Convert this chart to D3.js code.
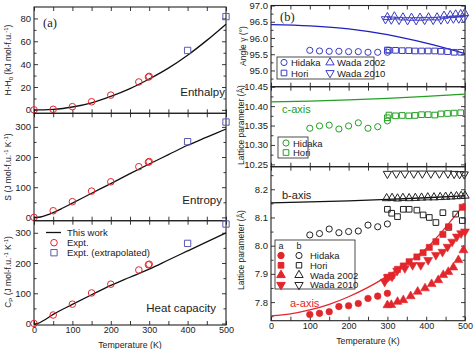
<!DOCTYPE html>
<html><head><meta charset="utf-8">
<script src="https://cdn.jsdelivr.net/npm/d3@7"></script>
<style>body{margin:0;background:#fff}svg{display:block;font-family:"Liberation Sans",Arial,sans-serif}</style>
</head><body><svg id="c" width="474" height="349"></svg>
<script>
// ---------------- DATA ----------------
const tempTicks = [0,100,200,300,400,500];
// (a) Enthalpy
const hLineT = [0,25,50,75,100,150,200,250,300,350,400,450,500];
const hLine  = [0,0.05,0.4,1.2,2.5,6.2,11.8,18.6,27,36.5,47.8,60.8,75];
const hExpT  = [0,50,100,150,200,273,298,300];
const hExp   = [0,0.5,2.8,7.1,12.9,24.4,28.7,29.3];
const hExtT  = [400,500];
const hExt   = [52,81.6];
// (a) Entropy
const sLineT = [0,12,25,50,75,100,150,200,250,300,350,400,450,500];
const sLine  = [0,0.5,4,16,31,47,80,112,145,177,208,239,266,293];
const sExpT  = [0,50,100,150,200,273,298,300];
const sExp   = [0,22,52,87,118,168,183,185];
const sExtT  = [400,500];
const sExt   = [251,316];
// (a) Heat capacity
const cLineT = [0,10,25,50,100,150,200,250,300,350,400,450,500];
const cLine  = [-3,0,10,30,63,95,126,153,180,210,240,270,300];
const cExpT  = [0,50,100,150,200,273,298,300];
const cExp   = [0,28,64,101,130,177,194,196];
const cExtT  = [400,500];
const cExt   = [265,329];
// (b) Angle gamma
const gLineT = [0,100,200,300,400,500];
const gLine  = [96.41,96.37,96.28,96.1,95.84,95.52];
const hidakaT = [100,125,150,175,200,225,250,275,300];
const gHidaka = [95.62,95.6,95.59,95.59,95.58,95.58,95.56,95.56,95.56];
const horiT   = [300,304,321,338,355,371,388,405,422,438,455,472,489];
const gHori   = [95.63,95.62,95.62,95.61,95.61,95.6,95.6,95.6,95.6,95.59,95.58,95.56,95.56];
const wada02T = [300,318,340,362,384,406,428,446,462,476,489,499];
const gWada02 = [96.64,96.66,96.63,96.62,96.62,96.63,96.63,96.68,96.7,96.72,96.73,96.76];
const wada10T = [295,310,330,352,374,396,418,438,455,470,484,497];
const gWada10 = [96.58,96.57,96.56,96.55,96.55,96.56,96.56,96.57,96.58,96.6,96.6,96.61];
// (b) c-axis
const cAxLineT = [0,100,200,300,400,500];
const cAxLine  = [10.411,10.413,10.416,10.42,10.425,10.431];
const cHidaka  = [10.343,10.349,10.351,10.341,10.349,10.357,10.343,10.347,10.362];
const cHori    = [10.37,10.377,10.375,10.376,10.375,10.376,10.378,10.378,10.377,10.38,10.381,10.382,10.383];
// (b) b-axis
const bLineT = [0,100,200,300,400,500];
const bLine  = [8.152,8.155,8.159,8.164,8.17,8.177];
const bHidaka = [8.038,8.043,8.059,8.046,8.05,8.052,8.073,8.067,8.077];
const bHoriT  = [300,311,326,341,356,376,392,408,425,443,458,476,493];
const bHori   = [8.129,8.115,8.103,8.129,8.129,8.126,8.109,8.1,8.082,8.117,8.065,8.112,8.089];
const bWada02T = [298,312,326,340,356,372,388,404,420,436,450,464,478,490,500];
const bWada02  = [8.168,8.169,8.167,8.169,8.168,8.169,8.17,8.171,8.171,8.172,8.173,8.174,8.175,8.176,8.177];
const bWada10T = [300,323,345,368,390,412,434,456,472,486,498];
const bWada10  = [8.255,8.256,8.256,8.256,8.256,8.256,8.256,8.256,8.255,8.254,8.253];
// (b) a-axis
const aLineT = [0,50,100,150,200,250,300,350,400,450,500];
const aLine  = [7.751,7.758,7.772,7.792,7.819,7.852,7.892,7.938,7.99,8.065,8.15];
const aHidaka = [7.756,7.76,7.766,7.784,7.787,7.795,7.813,7.821,7.831];
const aHoriT  = [300,311,326,341,356,376,392,408,425,443,458,493];
const aHori   = [7.888,7.895,7.916,7.928,7.943,7.96,7.975,7.994,8.014,8.04,8.067,8.136];
const aWada10T = [293,301,312,325,345,365,386,405,425,442,455,467,479,490,500];
const aWada10  = [7.872,7.888,7.89,7.911,7.92,7.931,7.931,7.949,7.967,7.978,7.996,8.014,8.032,8.044,8.05];
const aWada02T = [300,310,326,341,360,378,397,414,431,444,457,470,483,496];
const aWada02  = [7.789,7.79,7.801,7.807,7.821,7.837,7.849,7.864,7.878,7.896,7.907,7.923,7.949,7.984];

// ---------------- DRAW ----------------
const svg = d3.select('#c');
const RED = '#e3262b', BLUE = '#3b3bc4', GREEN = '#23a023', PBLUE = '#5a5ab0';
const FS = 9.5;

function zip(T, V){ return T.map((t,i)=>[t,V[i]]); }

function panel(x, top, bottom, domain, majors, minors, labelFmt, showX){
  const y = d3.scaleLinear().domain(domain).range([bottom, top]);
  const g = svg.append('g');
  const [x0,x1] = x.range();
  const ax = g.append('g').attr('transform',`translate(${x0},0)`)
    .call(d3.axisLeft(y).tickValues(majors).tickSize(-4).tickPadding(3).tickFormat(labelFmt));
  ax.select('.domain').remove();
  ax.selectAll('text').attr('font-size',FS).attr('font-family','Liberation Sans, Arial').attr('fill','#222');
  g.append('g').attr('transform',`translate(${x0},0)`).call(d3.axisLeft(y).tickValues(minors).tickSize(-2.5).tickFormat(''))
    .select('.domain').remove();
  const r = g.append('g').attr('transform',`translate(${x1},0)`);
  r.call(d3.axisRight(y).tickValues(majors).tickSize(-4).tickFormat('')).select('.domain').remove();
  const r2 = g.append('g').attr('transform',`translate(${x1},0)`);
  r2.call(d3.axisRight(y).tickValues(minors).tickSize(-2.5).tickFormat('')).select('.domain').remove();
  const xt = d3.range(0,501,50);
  g.append('g').attr('transform',`translate(0,${bottom})`).call(d3.axisBottom(x).tickValues(xt).tickSize(-4).tickFormat('')).select('.domain').remove();
  g.append('g').attr('transform',`translate(0,${top})`).call(d3.axisTop(x).tickValues(xt).tickSize(-4).tickFormat('')).select('.domain').remove();
  if(showX){
    const bx = g.append('g').attr('transform',`translate(0,${bottom})`)
      .call(d3.axisBottom(x).tickValues(tempTicks).tickSize(0).tickPadding(2));
    bx.select('.domain').remove();
    bx.selectAll('text').attr('font-size',9).attr('font-family','Liberation Sans, Arial').attr('fill','#222');
  }
  g.selectAll('.tick line').attr('stroke','#222').attr('stroke-width',0.9);
  g.append('rect').attr('x',x0).attr('y',top).attr('width',x1-x0).attr('height',bottom-top)
    .attr('fill','none').attr('stroke','#222').attr('stroke-width',1.1);
  return {g,y};
}

function line(g, x, y, T, V, color){
  g.append('path').datum(zip(T,V))
    .attr('d', d3.line().x(d=>x(d[0])).y(d=>y(d[1])).curve(d3.curveMonotoneX))
    .attr('fill','none').attr('stroke',color).attr('stroke-width',1.3);
}
function marks(g, x, y, T, V, type, size, color, filled, rot){
  const sym = d3.symbol().type(type).size(size);
  g.selectAll(null).data(zip(T,V)).enter().append('path')
    .attr('d', sym)
    .attr('transform', d=>`translate(${x(d[0])},${y(d[1])})${rot?' rotate(180)':''}`)
    .attr('fill', filled ? color : 'none')
    .attr('stroke', color).attr('stroke-width', filled?0.6:1);
}
function text(g, x, y, s, o={}){
  const t = g.append('text').attr('x',x).attr('y',y).text(s)
    .attr('font-size',o.fs||FS).attr('fill',o.fill||'#222')
    .attr('text-anchor',o.anchor||'start');
  if(o.family) t.attr('font-family',o.family);
  return t;
}
function vtitle(x, y, parts, fs){
  const t = svg.append('text').attr('transform',`translate(${x},${y}) rotate(-90)`)
    .attr('text-anchor','middle').attr('font-size',fs||8.5).attr('fill','#222');
  parts.forEach(p=>{
    const ts = t.append('tspan').text(p[0]);
    if(p[1]==='sub'){ ts.attr('font-size',(fs||8.5)*0.7).attr('dy',2); }
    else if(p[1]==='sup'){ ts.attr('font-size',(fs||8.5)*0.7).attr('dy',-3.5); }
    if(p[2]) ts.attr('dy',p[2]);
  });
  return t;
}

// ---- Left (a) ----
const xa = d3.scaleLinear().domain([0,500]).range([34,226]);
const fmt0 = d3.format('d');
const pH = panel(xa, 7, 113.3, [-3,90], [0,20,40,60,80], [10,30,50,70], fmt0, false);
line(pH.g, xa, pH.y, hLineT, hLine, '#111');
marks(pH.g, xa, pH.y, hExpT, hExp, d3.symbolCircle, 34, RED, false);
marks(pH.g, xa, pH.y, hExtT, hExt, d3.symbolSquare, 40, PBLUE, false);
text(pH.g, 43, 27, '(a)', {fs:12.5, family:'Liberation Serif'});
text(pH.g, 225, 96, 'Enthalpy', {fs:11.5, anchor:'end'});

const pS = panel(xa, 113.3, 220.7, [-11,345], [0,100,200,300], [50,150,250], fmt0, false);
line(pS.g, xa, pS.y, sLineT, sLine, '#111');
marks(pS.g, xa, pS.y, sExpT, sExp, d3.symbolCircle, 34, RED, false);
marks(pS.g, xa, pS.y, sExtT, sExt, d3.symbolSquare, 40, PBLUE, false);
text(pS.g, 222, 204, 'Entropy', {fs:11.5, anchor:'end'});

const pC = panel(xa, 220.7, 325, [-5,340], [0,100,200,300], [50,150,250], fmt0, true);
line(pC.g, xa, pC.y, cLineT, cLine, '#111');
marks(pC.g, xa, pC.y, cExpT, cExp, d3.symbolCircle, 34, RED, false);
marks(pC.g, xa, pC.y, cExtT, cExt, d3.symbolSquare, 40, PBLUE, false);
text(pC.g, 216, 312, 'Heat capacity', {fs:11.5, anchor:'end'});
pC.g.append('line').attr('x1',46).attr('x2',61).attr('y1',232.5).attr('y2',232.5).attr('stroke','#111').attr('stroke-width',1.3);
text(pC.g, 67, 236, 'This work', {fs:9.5});
pC.g.append('path').attr('d',d3.symbol().type(d3.symbolCircle).size(34)).attr('transform','translate(54,242.7)').attr('fill','none').attr('stroke',RED);
text(pC.g, 67, 246, 'Expt.', {fs:9.5});
pC.g.append('path').attr('d',d3.symbol().type(d3.symbolSquare).size(40)).attr('transform','translate(54,252.7)').attr('fill','none').attr('stroke',PBLUE);
text(pC.g, 67, 256, 'Expt. (extrapolated)', {fs:9.5});
text(svg, 130, 347.5, 'Temperature (K)', {fs:8.8, anchor:'middle'});

vtitle(11, 60, [['H-H'],['0','sub'],[' (kJ mol-f.u.',null,-2],['-1','sup'],[')',null,3.5]]);
vtitle(11, 167, [['S (J mol-f.u.'],['-1','sup'],[' K',null,3.5],['-1','sup'],[')',null,3.5]]);
vtitle(11, 272, [['C'],['P','sub'],[' (J mol-f.u.',null,-2],['-1','sup'],[' K',null,3.5],['-1','sup'],[')',null,3.5]]);

// ---- Right (b) ----
const xb = d3.scaleLinear().domain([0,500]).range([271,465]);
const pG = panel(xb, 5.5, 86.7, [94.5,97.0], [95.0,95.5,96.0,96.5,97.0], [94.75,95.25,95.75,96.25,96.75], d3.format('.1f'), false);
line(pG.g, xb, pG.y, gLineT, gLine, '#2020c0');
marks(pG.g, xb, pG.y, hidakaT, gHidaka, d3.symbolCircle, 30, BLUE, false);
marks(pG.g, xb, pG.y, horiT, gHori, d3.symbolSquare, 32, BLUE, false);
marks(pG.g, xb, pG.y, wada02T, gWada02, d3.symbolTriangle, 30, BLUE, false);
marks(pG.g, xb, pG.y, wada10T, gWada10, d3.symbolTriangle, 30, BLUE, false, true);
text(pG.g, 280, 21, '(b)', {fs:12.5, family:'Liberation Serif'});
pG.g.append('rect').attr('x',277).attr('y',57).attr('width',97).attr('height',22).attr('fill','#fff').attr('stroke','#222').attr('stroke-width',0.8);
pG.g.append('path').attr('d',d3.symbol().type(d3.symbolCircle).size(30)).attr('transform','translate(284,62.5)').attr('fill','none').attr('stroke',BLUE);
text(pG.g, 291, 66, 'Hidaka', {fs:9.5});
pG.g.append('path').attr('d',d3.symbol().type(d3.symbolSquare).size(32)).attr('transform','translate(284,73)').attr('fill','none').attr('stroke',BLUE);
text(pG.g, 291, 76.5, 'Hori', {fs:9.5});
pG.g.append('path').attr('d',d3.symbol().type(d3.symbolTriangle).size(30)).attr('transform','translate(330,62.5)').attr('fill','none').attr('stroke',BLUE);
text(pG.g, 337, 66, 'Wada 2002', {fs:9.5});
pG.g.append('path').attr('d',d3.symbol().type(d3.symbolTriangle).size(30)).attr('transform','translate(330,73) rotate(180)').attr('fill','none').attr('stroke',BLUE);
text(pG.g, 337, 76.5, 'Wada 2010', {fs:9.5});

const pCa = panel(xb, 86.7, 166.7, [10.244,10.45], [10.25,10.30,10.35,10.40,10.45], [10.275,10.325,10.375,10.425], d3.format('.2f'), false);
line(pCa.g, xb, pCa.y, cAxLineT, cAxLine, GREEN);
marks(pCa.g, xb, pCa.y, hidakaT, cHidaka, d3.symbolCircle, 30, GREEN, false);
marks(pCa.g, xb, pCa.y, horiT, cHori, d3.symbolSquare, 32, GREEN, false);
text(pCa.g, 282, 113, 'c-axis', {fs:11, fill:GREEN});
pCa.g.append('rect').attr('x',278).attr('y',137).attr('width',30).attr('height',21).attr('fill','#fff').attr('stroke','#222').attr('stroke-width',0.8);
pCa.g.append('path').attr('d',d3.symbol().type(d3.symbolCircle).size(30)).attr('transform','translate(286,143)').attr('fill','none').attr('stroke',GREEN);
text(pCa.g, 293, 146.5, 'Hidaka', {fs:9.5});
pCa.g.append('path').attr('d',d3.symbol().type(d3.symbolSquare).size(32)).attr('transform','translate(286,152.5)').attr('fill','none').attr('stroke',GREEN);
text(pCa.g, 293, 156, 'Hori', {fs:9.5});

const pAB = panel(xb, 166.7, 320.7, [7.734,8.28], [7.8,7.9,8.0,8.1,8.2], [7.75,7.85,7.95,8.05,8.15,8.25], d3.format('.1f'), true);
line(pAB.g, xb, pAB.y, bLineT, bLine, '#111');
line(pAB.g, xb, pAB.y, aLineT, aLine, RED);
marks(pAB.g, xb, pAB.y, hidakaT, bHidaka, d3.symbolCircle, 30, '#222', false);
marks(pAB.g, xb, pAB.y, bHoriT, bHori, d3.symbolSquare, 32, '#222', false);
marks(pAB.g, xb, pAB.y, bWada02T, bWada02, d3.symbolTriangle, 30, '#222', false);
marks(pAB.g, xb, pAB.y, bWada10T, bWada10, d3.symbolTriangle, 30, '#222', false, true);
marks(pAB.g, xb, pAB.y, hidakaT, aHidaka, d3.symbolCircle, 34, RED, true);
marks(pAB.g, xb, pAB.y, aHoriT, aHori, d3.symbolSquare, 38, RED, true);
marks(pAB.g, xb, pAB.y, aWada02T, aWada02, d3.symbolTriangle, 34, RED, true);
marks(pAB.g, xb, pAB.y, aWada10T, aWada10, d3.symbolTriangle, 34, RED, true, true);
text(pAB.g, 282, 199, 'b-axis', {fs:11});
text(pAB.g, 290, 307, 'a-axis', {fs:11, fill:RED});
pAB.g.append('rect').attr('x',275).attr('y',240).attr('width',80).attr('height',49).attr('fill','#fff').attr('stroke','#222').attr('stroke-width',0.8);
text(pAB.g, 281, 249, 'a', {fs:9, anchor:'middle'});
text(pAB.g, 299, 249, 'b', {fs:9, anchor:'middle'});
const legRows = [['Hidaka',d3.symbolCircle,false],['Hori',d3.symbolSquare,false],['Wada 2002',d3.symbolTriangle,false],['Wada 2010',d3.symbolTriangle,true]];
legRows.forEach((r,i)=>{
  const yy = 255.5 + i*9.8;
  pAB.g.append('path').attr('d',d3.symbol().type(r[1]).size(32)).attr('transform',`translate(281,${yy})${r[2]?' rotate(180)':''}`).attr('fill',RED).attr('stroke',RED);
  pAB.g.append('path').attr('d',d3.symbol().type(r[1]).size(30)).attr('transform',`translate(299,${yy})${r[2]?' rotate(180)':''}`).attr('fill','none').attr('stroke','#222');
  text(pAB.g, 310, yy+3.5, r[0], {fs:9.5});
});
text(svg, 368, 344, 'Temperature (K)', {fs:8.8, anchor:'middle'});

vtitle(246, 46, [['Angle γ (°)']]);
vtitle(244, 125, [['Lattice parameter (Å)']]);
vtitle(244, 250, [['Lattice parameter (Å)']]);
</script></body></html>
